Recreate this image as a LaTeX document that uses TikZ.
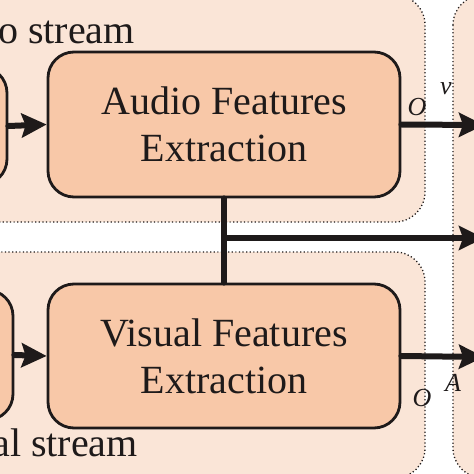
\documentclass[tikz,border=0pt]{standalone}
\usepackage{fontspec}
\setmainfont{Liberation Serif}
\usetikzlibrary{arrows.meta}
\definecolor{bgpeach}{RGB}{250,229,215}
\definecolor{boxpeach}{RGB}{248,200,168}
\definecolor{ink}{RGB}{30,26,26}
\tikzset{
  streambg/.style={fill=bgpeach, draw=ink, line width=1.3pt, dash pattern=on 1.2pt off 2.4pt, rounded corners=30pt},
  procbox/.style={draw=ink, fill=boxpeach, line width=2.8pt, rounded corners=26pt, align=center,
     font=\fontsize{40}{47}\selectfont, text=ink, inner sep=0pt},
  conn/.style={draw=ink, line width=6pt, line cap=round},
  arr/.style={conn, -{Stealth[length=25pt,width=24pt,inset=4pt]}},
  lbl/.style={font=\fontsize{26}{30}\selectfont\itshape, text=ink, inner sep=0pt},
  streamlbl/.style={font=\fontsize{40}{47}\selectfont, text=ink, inner sep=0pt}
}
\begin{document}
\begin{tikzpicture}[x=1pt,y=-1pt]
\useasboundingbox (0,0) rectangle (474,474);
\clip (0,0) rectangle (474,474);
% stream backgrounds
\draw[streambg] (-40,-5) rectangle (425,222);
\draw[streambg] (-40,252) rectangle (425,478);
\draw[streambg] (453,-5) rectangle (540,478);
% stream labels
\node[streamlbl, anchor=base east] (alabel) at (135,43) {o stream};
\node[streamlbl, anchor=base east] (vlabel) at (138,456) {al stream};
% partial boxes on the left
\node[procbox, minimum width=67pt, minimum height=118pt] (pa) at (-26.5,126) {};
\node[procbox, minimum width=73pt, minimum height=130pt] (pv) at (-23.5,355) {};
% main boxes
\node[procbox, minimum width=352pt, minimum height=145pt] (ab) at (224,124.5) {Audio Features\\Extraction};
\node[procbox, minimum width=352pt, minimum height=144pt] (vb) at (224,356) {Visual Features\\Extraction};
% outputs
\coordinate (aout) at (484,125);
\coordinate (vout) at (484,357);
\coordinate (mid) at (224,238);
\coordinate (mout) at (484,238);
% connectors
\draw[arr] (pa.east) -- (ab.west);
\draw[arr] (pv.east) -- (vb.west);
\draw[arr] (ab.east) -- (aout);
\draw[arr] (vb.east) -- (vout);
\draw[conn] (ab.south) -- (vb.north);
\draw[arr] (mid) -- (mout);
% labels
\node[lbl] (oa) at (417,107) {O};
\node[lbl] (sv) at (446,89) {v};
\node[lbl] (ov) at (422,398) {O};
\node[lbl] (sa) at (453,383) {A};
\end{tikzpicture}
\end{document}
